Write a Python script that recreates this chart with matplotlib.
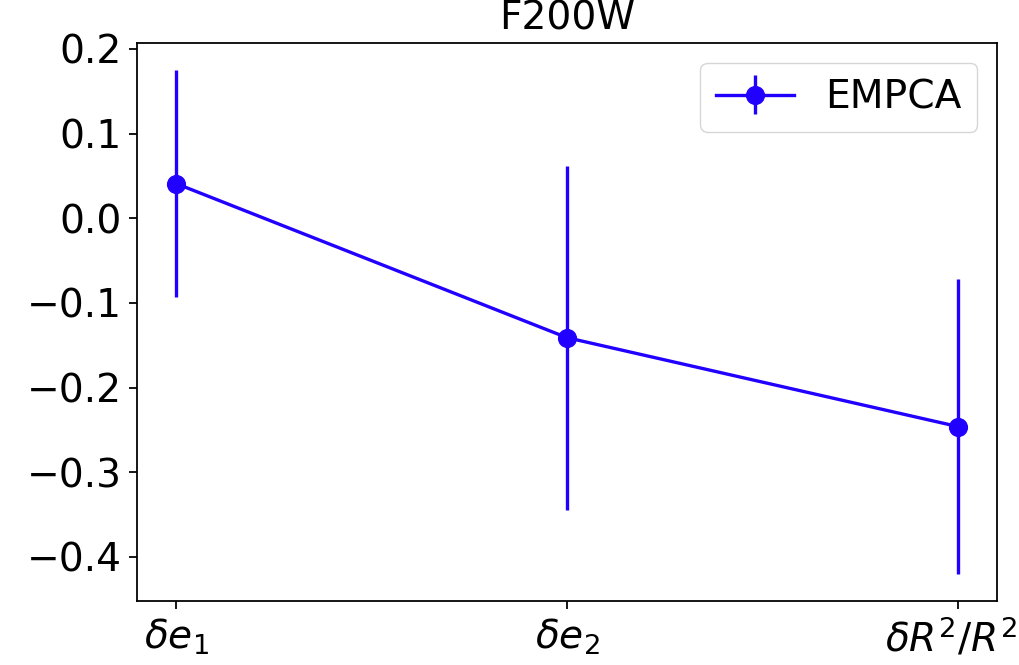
import matplotlib
matplotlib.use("Agg")
import matplotlib.pyplot as plt
import matplotlib.transforms as mtransforms

categories = [r"$\delta e_1$", r"$\delta e_2$", r"$\delta R^2/R^2$"]
values = [0.041, -0.141, -0.246]
errors = [0.134, 0.203, 0.174]
yticks = [0.2, 0.1, 0.0, -0.1, -0.2, -0.3, -0.4]

s = 1.6
fs = 17.6 * s
fig = plt.figure(figsize=(10.2, 6.65), dpi=100)
ax = fig.add_axes([137/1020, 1-601/665, (997-137)/1020, (601-43)/665])
x = list(range(len(categories)))
ax.errorbar(x, values, yerr=errors, color="#2200ff", marker="o", markersize=8*s,
            linewidth=1.5*s, elinewidth=1.5*s, label="EMPCA")
ax.set_xticks(x)
ax.set_xticklabels(categories)
ax.set_yticks(yticks)
ax.set_ylim(-0.452, 0.207)
ax.tick_params(labelsize=fs, length=3.5*s, width=0.8*s, pad=3.5*s)
for sp in ax.spines.values():
    sp.set_linewidth(0.8*s)
ax.set_title("F200W", fontsize=fs, pad=6*s)
ax.legend(fontsize=fs, loc="upper right")

# keep the last tick label inside the figure
fig.canvas.draw()
last = ax.get_xticklabels()[-1]
bb = last.get_window_extent()
shift = max(0.0, bb.x1 - (fig.bbox.width - 3))
if shift > 0:
    last.set_transform(last.get_transform() +
                       mtransforms.Affine2D().translate(-shift, 0))
fig.savefig("out.png", dpi=100)
